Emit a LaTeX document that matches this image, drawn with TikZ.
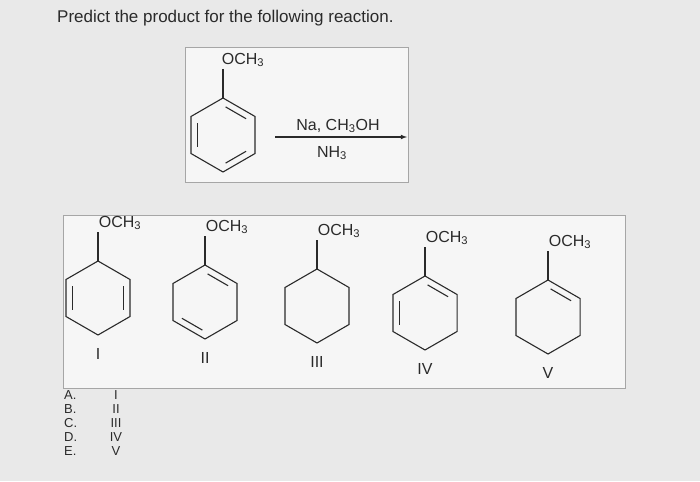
\documentclass[tikz,border=0pt]{standalone}
\usepackage{fontspec}
\setmainfont{Liberation Sans}
\usetikzlibrary{calc}
\definecolor{bg}{HTML}{E9E9E9}
\definecolor{ink}{HTML}{2A2A2A}
\tikzset{bond/.style={draw=ink,line width=1.1pt},
  lbl/.style={text=ink,font=\fontsize{16}{16}\selectfont,inner sep=0pt},
  frame/.style={draw=gray!70,line width=0.8pt}}
\newcommand\hexring[3]{%
 \begin{scope}[shift={(#1,#2)}]
  \draw[bond] (-90:37)--(-30:37)--(30:37)--(90:37)--(150:37)--(210:37)--cycle;
  #3
 \end{scope}}
\newcommand\dbl[1]{\draw[bond,shorten <=3pt,shorten >=3pt] ({60*#1-90}:29.6) -- ({60*#1-30}:29.6);}
\newcommand\prodmol[5]{%
  \hexring{#1}{#2}{#3}
  \node[lbl] (o#5) at (#1+22,#2-75) {OCH\textsubscript{3}};
  \draw[bond] (#1,#2-66) -- (#1,#2-37);
  \node[lbl] (n#5) at (#1,#2+56) {#4};}
\begin{document}
\begin{tikzpicture}[x=1pt,y=-1pt]
\fill[bg] (0,0) rectangle (700,481);
\useasboundingbox (0,0) rectangle (700,481);
\node[lbl,anchor=west,font=\fontsize{17}{17}\selectfont] (title) at (57,18) {Predict the product for the following reaction.};
% reactant box
\draw[frame,fill=white!60!bg] (185,47) rectangle (408,182);
\hexring{223}{135}{\dbl{0}\dbl{2}\dbl{4}}
\node[lbl] (r0) at (243,60) {OCH\textsubscript{3}};
\draw[bond] (223,69) -- (223,98);
\coordinate (a1) at (275,137); \coordinate (a2) at (407,137);
\draw[bond,-latex] (a1) -- (a2);
\node[lbl] (reag1) at (338,126) {Na, CH\textsubscript{3}OH};
\node[lbl] (reag2) at (332,153) {NH\textsubscript{3}};
% products box
\draw[frame,fill=white!60!bg] (63,215) rectangle (625,388);
\prodmol{98}{298}{\dbl{1}\dbl{4}}{I}{1}
\prodmol{205}{302}{\dbl{0}\dbl{3}}{II}{2}
\prodmol{317}{306}{}{III}{3}
\prodmol{425}{313}{\dbl{0}\dbl{4}}{IV}{4}
\prodmol{548}{317}{\dbl{0}}{V}{5}
% answers
\foreach \L/\R [count=\k] in {A/I,B/II,C/III,D/IV,E/V}{
  \node[lbl,anchor=west,font=\fontsize{13}{13}\selectfont] (ans\k) at (64,381+14*\k) {\L.};
  \node[lbl,font=\fontsize{13}{13}\selectfont] (rom\k) at (116,381+14*\k) {\R};
}
\end{tikzpicture}
\end{document}
